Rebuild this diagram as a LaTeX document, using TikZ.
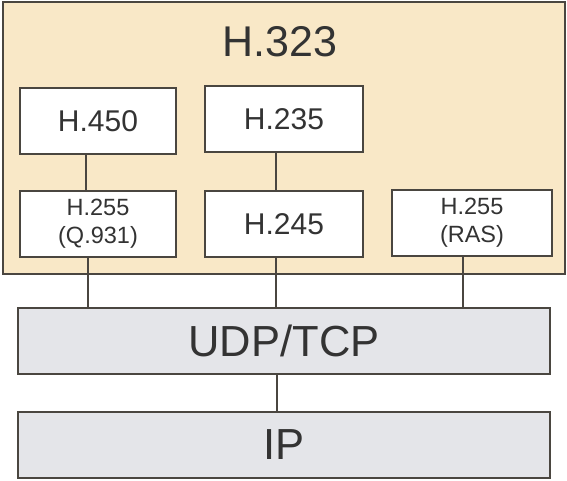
\documentclass[tikz,border=0pt]{standalone}
\usepackage{fontspec}
\setmainfont{Liberation Sans}
\definecolor{beige}{HTML}{F9E8C7}
\definecolor{layer}{HTML}{E4E5E9}
\definecolor{edge}{HTML}{4A4640}
\definecolor{txt}{HTML}{333333}
\begin{document}
\begin{tikzpicture}[x=1pt,y=-1pt,
  proto/.style={draw=edge,line width=2.4pt,fill=white,minimum height=66pt,inner sep=0pt,text=txt,align=center},
  layerbox/.style={draw=edge,line width=2.4pt,fill=layer,minimum width=532pt,minimum height=66pt,inner sep=0pt,text=txt,font=\fontsize{43.5}{46}\selectfont},
  link/.style={draw=edge,line width=1.8pt}]
\useasboundingbox (0,0) rectangle (567,480);
\node[draw=edge,line width=2.4pt,fill=beige,minimum width=562pt,minimum height=272pt,inner sep=0pt] (h323) at (284,138) {};
\node[text=txt,font=\fontsize{43}{46}\selectfont] (title) at (280,42) {H.323};
\node[proto,minimum width=156pt,font=\fontsize{30}{32}\selectfont] (h450) at (98,121) {H.450};
\node[proto,minimum width=158pt,font=\fontsize{30}{32}\selectfont] (h235) at (284,119) {H.235};
\node[proto,minimum width=156pt,font=\fontsize{23.5}{28}\selectfont] (q931) at (98,224) {H.255\\(Q.931)};
\node[proto,minimum width=158pt,font=\fontsize{30}{32}\selectfont] (h245) at (284,224) {H.245};
\node[proto,minimum width=160pt,font=\fontsize{23.5}{28}\selectfont] (ras) at (472,223) {H.255\\(RAS)};
\node[layerbox] (udp) at (284,341) {UDP/TCP};
\node[layerbox] (ip) at (284,445) {IP};
\draw[link] (h450.south -| 86,0) -- (q931.north -| 86,0);
\draw[link] (h235.south -| 276,0) -- (h245.north -| 276,0);
\draw[link] (q931.south -| 88,0) -- (udp.north -| 88,0);
\draw[link] (h245.south -| 276,0) -- (udp.north -| 276,0);
\draw[link] (ras.south -| 463,0) -- (udp.north -| 463,0);
\draw[link] (udp.south -| 277,0) -- (ip.north -| 277,0);
\end{tikzpicture}
\end{document}
